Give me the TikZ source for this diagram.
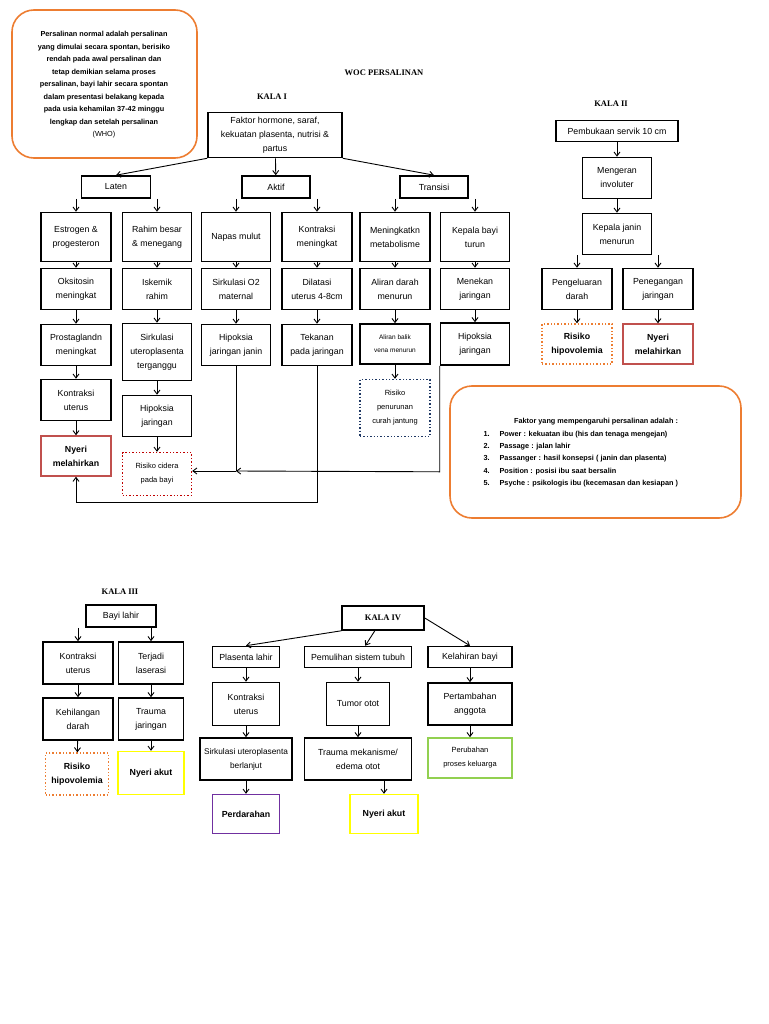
\documentclass[tikz,border=0pt]{standalone}
\usepackage{fontspec}
\setmainfont{Liberation Sans}
\newfontfamily\serifh{Liberation Serif}
\usetikzlibrary{arrows.meta}
\definecolor{org}{RGB}{237,125,49}
\definecolor{nred}{RGB}{192,80,77}
\definecolor{navy}{RGB}{31,56,100}
\definecolor{dred}{RGB}{192,0,0}
\definecolor{yel}{RGB}{255,255,0}
\definecolor{purp}{RGB}{112,48,160}
\definecolor{grn}{RGB}{146,208,80}
\newcommand{\bx}[7]{\node[box,#6,minimum width=#4pt,minimum height=#5pt] (#1) at (#2,#3) {#7};}
\begin{document}
\begin{tikzpicture}[x=1pt,y=-1pt,
  box/.style={draw,line width=1.6pt,align=center,inner sep=1pt,font=\fontsize{8.8}{14}\selectfont},
  diag/.style={line width=1.4pt,draw=nred,font=\fontsize{8.8}{14}\selectfont\bfseries},
  dot/.style={line width=1.4pt,dotted},
  arr/.style={-{Straight Barb[length=4pt,width=6pt]},line width=0.9pt},
  ln/.style={line width=0.9pt},
  head/.style={font=\serifh\bfseries\fontsize{8.5}{10}\selectfont},
  rbox/.style={draw=org,line width=1.6pt,rounded corners=22pt}]
\useasboundingbox (0,0) rectangle (768,1024);
% info boxes
\draw[rbox] (12,10) rectangle (197,158);
\node[align=center,font=\fontsize{7.3}{12.5}\selectfont\bfseries] (who) at (104,85) {Persalinan normal adalah persalinan\\yang dimulai secara spontan, berisiko\\rendah pada awal persalinan dan\\tetap demikian selama proses\\persalinan, bayi lahir secara spontan\\dalam presentasi belakang kepada\\pada usia kehamilan 37-42 minggu\\lengkap dan setelah persalinan\\{\mdseries (WHO)}};
\draw[rbox] (450,386) rectangle (741,518);
\node[font=\fontsize{7.3}{12}\selectfont\bfseries] (fk) at (596,422) {Faktor yang mempengaruhi persalinan adalah :};
\node[anchor=west,align=left,font=\fontsize{7.3}{12.2}\selectfont\bfseries] (fl) at (480,459) {1.\hspace{10pt}Power : kekuatan ibu (his dan tenaga mengejan)\\2.\hspace{10pt}Passage : jalan lahir\\3.\hspace{10pt}Passanger : hasil konsepsi ( janin dan plasenta)\\4.\hspace{10pt}Position : posisi ibu saat bersalin\\5.\hspace{10pt}Psyche : psikologis ibu (kecemasan dan kesiapan )};
% headings
\node[head] (woc) at (384,73) {WOC PERSALINAN};
\node[head] (k1) at (272,97) {KALA I};
\node[head] (k2) at (611,104) {KALA II};
\node[head] (k3) at (120,592) {KALA III};
% KALA I
\bx{fak}{275}{135}{134}{45}{}{Faktor hormone, saraf,\\kekuatan plasenta, nutrisi \&\\partus}
\bx{lat}{116}{187}{69}{22}{}{Laten}
\bx{akt}{276}{187}{68}{22}{}{Aktif}
\bx{tra}{434}{187}{68}{22}{}{Transisi}
\draw[arr] (fak.south west) -- (lat.north);
\draw[arr] (fak) -- (akt);
\draw[arr] (fak.south east) -- (tra.north);
\bx{a1}{76}{237}{70}{49}{}{Estrogen \&\\progesteron}
\bx{b1}{157}{237}{69}{49}{}{Rahim besar\\\& menegang}
\bx{c1}{236}{237}{69}{49}{}{Napas mulut}
\bx{d1}{317}{237}{70}{49}{}{Kontraksi\\meningkat}
\bx{e1}{395}{237}{70}{49}{}{Meningkatkn\\metabolisme}
\bx{f1}{475}{237}{69}{49}{}{Kepala bayi\\turun}
\foreach \n in {a1,b1}{\draw[arr] (lat.south -| \n.north) -- (\n.north);}
\foreach \n in {c1,d1}{\draw[arr] (akt.south -| \n.north) -- (\n.north);}
\foreach \n in {e1,f1}{\draw[arr] (tra.south -| \n.north) -- (\n.north);}
\bx{a2}{76}{289}{70}{41}{}{Oksitosin\\meningkat}
\bx{b2}{157}{289}{69}{41}{}{Iskemik\\rahim}
\bx{c2}{236}{289}{69}{41}{}{Sirkulasi O2\\maternal}
\bx{d2}{317}{289}{70}{41}{}{Dilatasi\\uterus 4-8cm}
\bx{e2}{395}{289}{70}{41}{}{Aliran darah\\menurun}
\bx{f2}{475}{289}{69}{41}{}{Menekan\\jaringan}
\bx{a3}{76}{345}{70}{41}{}{Prostaglandn\\meningkat}
\bx{b3}{157}{352}{69}{57}{}{Sirkulasi\\uteroplasenta\\terganggu}
\bx{c3}{236}{345}{69}{41}{}{Hipoksia\\jaringan janin}
\bx{d3}{317}{345}{70}{41}{}{Tekanan\\pada jaringan}
\bx{e3}{395}{344}{70}{40}{font=\fontsize{6.5}{13}\selectfont}{Aliran balik\\vena menurun}
\bx{f3}{475}{344}{69}{42}{}{Hipoksia\\jaringan}
\foreach \c in {a,b,c,d,e,f}{\draw[arr] (\c1) -- (\c2); \draw[arr] (\c2) -- (\c3);}
\bx{a4}{76}{400}{70}{41}{}{Kontraksi\\uterus}
\bx{b4}{157}{416}{69}{41}{}{Hipoksia\\jaringan}
\bx{e4}{395}{408}{70}{57}{draw=navy,dot,font=\fontsize{7.5}{14}\selectfont}{Risiko\\penurunan\\curah jantung}
\bx{a5}{76}{456}{70}{40}{diag}{Nyeri\\melahirkan}
\bx{b5}{157}{474}{69}{43}{draw=dred,dot,font=\fontsize{7.5}{14}\selectfont}{Risiko cidera\\pada bayi}
\foreach \c in {a,b,e}{\draw[arr] (\c3) -- (\c4);}
\draw[arr] (a4) -- (a5);
\draw[arr] (b4) -- (b5);
\coordinate (jn) at (236,471);
\draw[ln] (c3.south) -- (jn);
\draw[arr] (f3.south west) -- ++(0,106) -- (jn);
\draw[arr] (jn) -- (b5.east |- jn);
\draw[arr] (d3.south) -- (317,502) -- (76,502) -- (a5.south);
% KALA II
\bx{p1}{617}{131}{122}{21}{}{Pembukaan servik 10 cm}
\bx{p2}{617}{178}{69}{41}{}{Mengeran\\involuter}
\bx{p3}{617}{234}{69}{41}{}{Kepala janin\\menurun}
\bx{p4}{577}{289}{70}{41}{}{Pengeluaran\\darah}
\bx{p5}{658}{289}{70}{41}{}{Penegangan\\jaringan}
\bx{p6}{577}{344}{70}{40}{diag,draw=org,dot}{Risiko\\hipovolemia}
\bx{p7}{658}{344}{70}{40}{diag}{Nyeri\\melahirkan}
\draw[arr] (p1) -- (p2); \draw[arr] (p2) -- (p3);
\draw[arr] (p3.south -| p4.north) -- (p4.north);
\draw[arr] (p3.south -| p5.north) -- (p5.north);
\draw[arr] (p4) -- (p6); \draw[arr] (p5) -- (p7);
% KALA III
\bx{q0}{121}{616}{70}{22}{}{Bayi lahir}
\bx{q1}{78}{663}{70}{42}{}{Kontraksi\\uterus}
\bx{q2}{151}{663}{65}{42}{}{Terjadi\\laserasi}
\bx{q3}{78}{719}{70}{42}{}{Kehilangan\\darah}
\bx{q4}{151}{719}{65}{42}{}{Trauma\\jaringan}
\bx{q5}{77}{774}{63}{42}{diag,draw=org,dot}{Risiko\\hipovolemia}
\bx{q6}{151}{773}{66}{43}{diag,draw=yel}{Nyeri akut}
\draw[arr] (q0.south -| q1.north) -- (q1.north);
\draw[arr] (q0.south -| q2.north) -- (q2.north);
\draw[arr] (q1) -- (q3); \draw[arr] (q2) -- (q4);
\draw[arr] (q3) -- (q5); \draw[arr] (q4) -- (q6);
% KALA IV
\bx{k4}{383}{618}{82}{24}{font=\serifh\bfseries\fontsize{8.5}{10}\selectfont}{KALA IV}
\bx{r1}{246}{657}{67}{21}{}{Plasenta lahir}
\bx{s1}{358}{657}{107}{21}{}{Pemulihan sistem tubuh}
\bx{t1}{470}{657}{84}{21}{}{Kelahiran bayi}
\draw[arr] (k4.south west) -- (r1.north);
\draw[arr] (k4) -- (s1);
\draw[arr] (k4.east) -- (t1.north);
\bx{r2}{246}{704}{67}{43}{}{Kontraksi\\uterus}
\bx{s2}{358}{704}{63}{43}{}{Tumor otot}
\bx{t2}{470}{704}{84}{42}{}{Pertambahan\\anggota}
\bx{r3}{246}{759}{92}{42}{font=\fontsize{8.3}{14}\selectfont}{Sirkulasi uteroplasenta\\berlanjut}
\bx{s3}{358}{759}{107}{42}{}{Trauma mekanisme/\\edema otot}
\bx{t3}{470}{758}{84}{40}{draw=grn,font=\fontsize{7.5}{14}\selectfont}{Perubahan\\proses keluarga}
\bx{r4}{246}{814}{67}{39}{diag,draw=purp}{Perdarahan}
\bx{s4}{384}{814}{68}{39}{diag,draw=yel}{Nyeri akut}
\draw[arr] (r1) -- (r2); \draw[arr] (r2) -- (r3); \draw[arr] (r3) -- (r4);
\draw[arr] (s1) -- (s2); \draw[arr] (s2) -- (s3); \draw[arr] (s3.south -| s4.north) -- (s4.north);
\draw[arr] (t1) -- (t2); \draw[arr] (t2) -- (t3);
\end{tikzpicture}
\end{document}
